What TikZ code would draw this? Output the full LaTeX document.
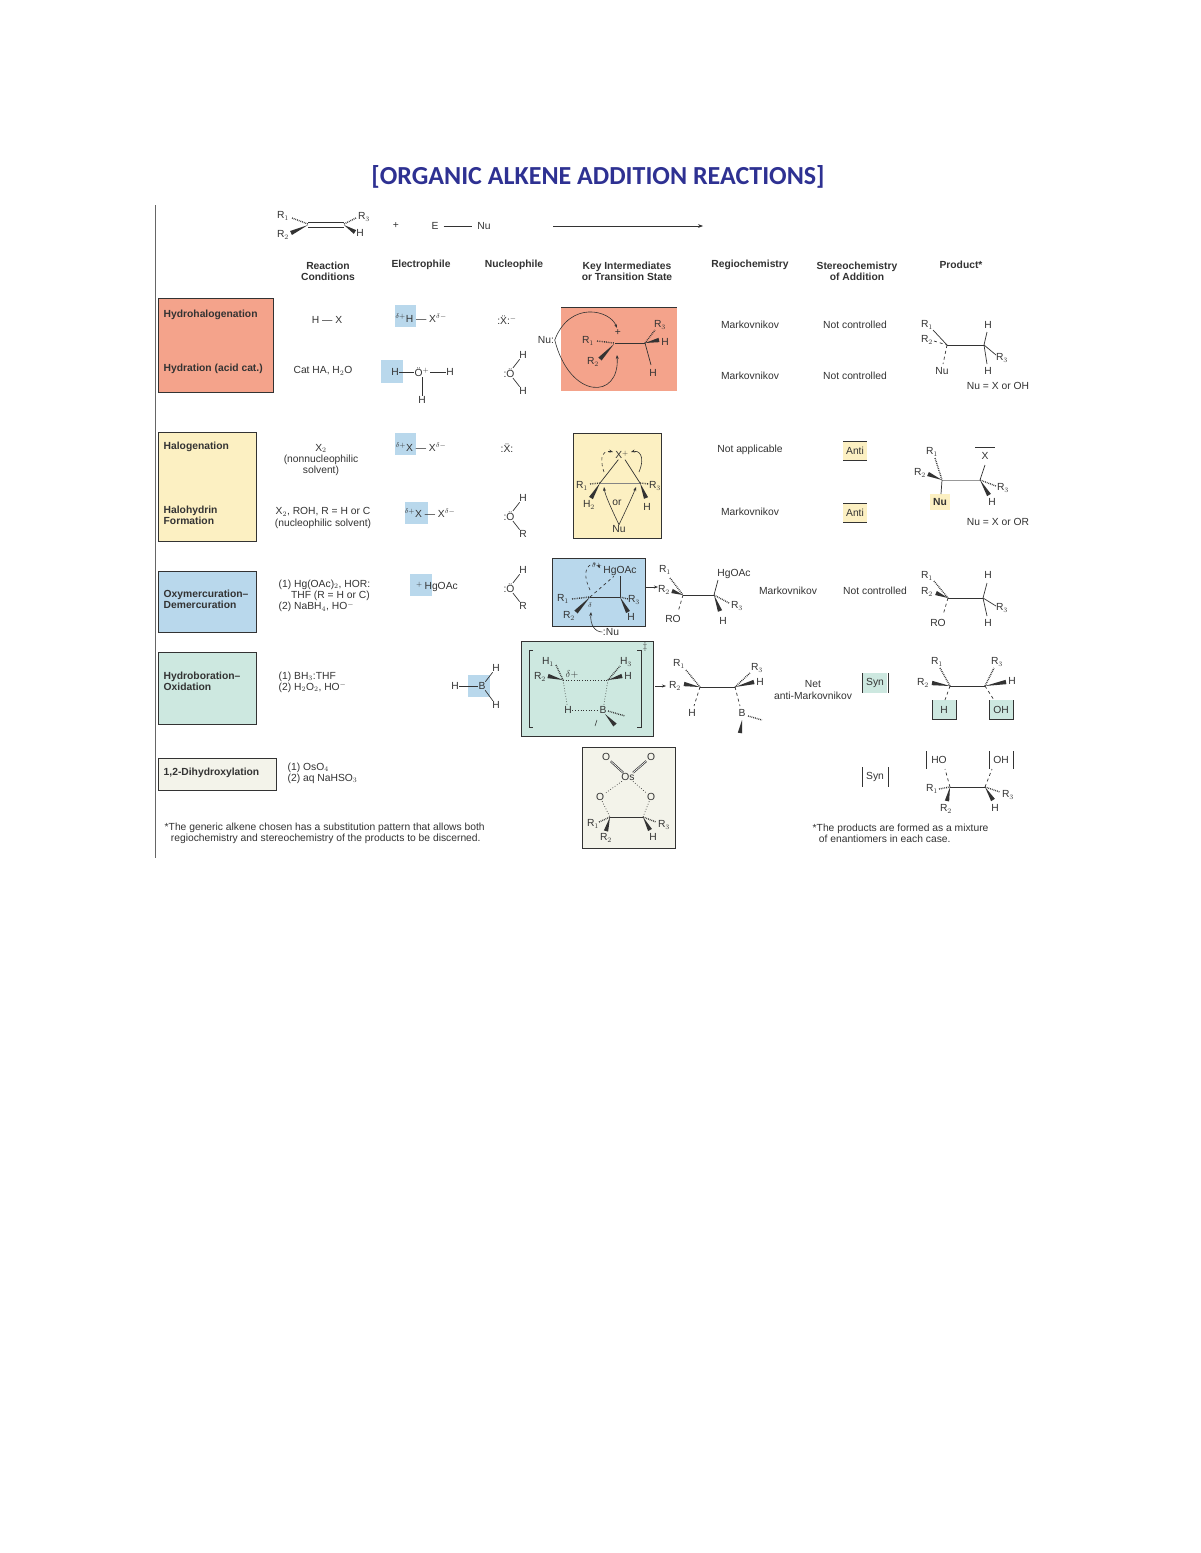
\documentclass[tikz,border=0pt]{standalone}
\usepackage{fontspec}
\setmainfont{Liberation Sans}
\newfontfamily\titlefont{Carlito}
\usetikzlibrary{calc,arrows.meta}
\definecolor{salmon}{HTML}{F4A38B}
\definecolor{yel}{HTML}{FCF0C2}
\definecolor{blu}{HTML}{B9D8EC}
\definecolor{grn}{HTML}{CDE8E0}
\definecolor{lgt}{HTML}{F3F3EA}
\definecolor{txt}{HTML}{333333}
\definecolor{ttl}{HTML}{2E3192}
\newcommand\wdg[2]{\fill[txt] (#1) -- ($(#2)!2.2pt!90:(#1)$) -- ($(#2)!2.2pt!-90:(#1)$) -- cycle;}
\newcommand\hsh[2]{\draw[txt,dash pattern=on 0.8pt off 1pt,line width=1.4pt] (#1) -- (#2);}
\begin{document}
\begin{tikzpicture}[x=1pt,y=-1pt,
  t/.style={font=\fontsize{10.3}{11.3}\selectfont,text=txt,inner sep=0.5pt,align=center},
  hd/.style={t,font=\fontsize{10.3}{11.3}\selectfont\bfseries},
  lab/.style={t,font=\fontsize{10.3}{11.3}\selectfont\bfseries,anchor=west,align=left},
  bnd/.style={draw=txt,line width=0.7pt},
  cbox/.style={draw=black!80,line width=0.8pt},
  cv/.style={draw=txt,line width=0.6pt,-{Stealth[length=4pt]}}]
\useasboundingbox (0,0) rectangle (1200,1553);
\fill[white] (0,0) rectangle (1200,1553);
\node[font=\titlefont\fontsize{26}{28}\selectfont\bfseries,text=ttl] (title) at (598,177) {[ORGANIC ALKENE ADDITION REACTIONS]};
\draw[black!60,line width=0.6pt] (155,205) -- (155,858);
% boxes
\filldraw[fill=salmon,cbox] (158,298) rectangle (273,392);
\filldraw[fill=yel,cbox] (158,432) rectangle (256,541);
\filldraw[fill=blu,cbox] (158,571) rectangle (256,632);
\filldraw[fill=grn,cbox] (158,652) rectangle (256,724);
\filldraw[fill=lgt,cbox] (158,758) rectangle (276,790);
\filldraw[fill=salmon,draw=none] (561,307) rectangle (677,391); \draw[cbox] (561,307)--(677,307);
\filldraw[fill=yel,cbox] (573,433) rectangle (661,538);
\filldraw[fill=blu,cbox] (552,558) rectangle (645,626);
\filldraw[fill=grn,cbox] (521,641) rectangle (653,736);
\filldraw[fill=lgt,cbox] (582,747) rectangle (675,848);
% highlight boxes
\fill[blu] (395,305) rectangle (416,327);
\fill[blu] (381,360) rectangle (403,383);
\fill[blu] (395,433) rectangle (416,455);
\fill[blu] (405,502) rectangle (428,524);
\fill[blu] (410,574) rectangle (432,596);
\fill[blu] (468,675) rectangle (490,697);
% header alkene
\node[t] (r1a) at (283,216) {R$_1$}; \node[t] (r3a) at (364,217) {R$_3$};
\node[t] (r2a) at (283,235) {R$_2$}; \node[t] (ha) at (360,233) {H};
\draw[bnd] (308,222)--(344,222); \draw[bnd] (308,227)--(344,227);
\hsh{292,218}{308,224}\hsh{344,224}{356,218}
\wdg{308,225}{291,233}\wdg{344,225}{355,232}
\node[t] (plus) at (396,226) {+};
\node[t,inner sep=5pt] (E) at (435,226) {E}; \node[t,inner sep=5pt] (nu0) at (484,226) {Nu};
\draw[bnd] (E) -- (nu0);
\coordinate (a0) at (553,226); \coordinate (a1) at (703,226);
\draw[txt,line width=0.6pt,-{Stealth[length=5pt]}] (a0) -- (a1);
% headers
\node[hd] at (328,271) {Reaction\\Conditions};
\node[hd] at (421,265) {Electrophile};
\node[hd] at (514,265) {Nucleophile};
\node[hd] at (627,271) {Key Intermediates\\or Transition State};
\node[hd] at (750,265) {Regiochemistry};
\node[hd] at (857,271) {Stereochemistry\\of Addition};
\node[hd] at (961,265) {Product*};
% row labels
\node[lab] at (163,315) {Hydrohalogenation};
\node[lab] at (163,369) {Hydration (acid cat.)};
\node[lab] at (163,447) {Halogenation};
\node[lab] at (163,515) {Halohydrin\\Formation};
\node[lab] at (163,599) {Oxymercuration--\\Demercuration};
\node[lab] at (163,681) {Hydroboration--\\Oxidation};
\node[lab] at (163,773) {1,2-Dihydroxylation};
% conditions
\node[t] at (327,320) {H --- X};
\node[t] at (323,371) {Cat HA, H$_2$O};
\node[t] at (321,460) {X$_2$\\(nonnucleophilic\\solvent)};
\node[t] at (323,518) {X$_2$, ROH, R = H or C\\(nucleophilic solvent)};
\node[t,anchor=west,align=left] at (278,596) {(1) Hg(OAc)$_2$, HOR:\\\hspace{1.2em}THF (R = H or C)\\(2) NaBH$_4$, HO$^-$};
\node[t,anchor=west,align=left] at (278,682) {(1) BH$_3$:THF\\(2) H$_2$O$_2$, HO$^-$};
\node[t,anchor=west,align=left] at (287,773) {(1) OsO$_4$\\(2) aq NaHSO$_3$};
% electrophiles
\node[t] at (421,318) {$^{\delta+}$H --- X$^{\delta-}$};
\node[t] (eh) at (395,372) {H}; \node[t] (eo) at (422,372) {\"O$^+$}; \node[t] (eh2) at (450,372) {H}; \node[t] (eh3) at (422,400) {H};
\draw[bnd] (eh)--(eo); \draw[bnd] (eo)--(eh2); \draw[bnd] (eo)--(eh3);
\node[t] at (421,447) {$^{\delta+}$X --- X$^{\delta-}$};
\node[t] at (430,513) {$^{\delta+}$X --- X$^{\delta-}$};
\node[t] at (437,587) {$^+$\,HgOAc};
\node[t] (bh) at (455,686) {H}; \node[t] (bb) at (482,686) {B}; \node[t] (bh2) at (496,668) {H}; \node[t] (bh3) at (496,705) {H};
\draw[bnd] (bh)--(bb); \draw[bnd] (bb)--(bh2); \draw[bnd] (bb)--(bh3);
% nucleophiles
\node[t] at (507,320) {:\"X:$^-$};
\node[t] at (507,448) {:\"X:};
\foreach \y/\s in {373/H,516/R,588/R}{
 \node[t] (o\y) at (509,\y) {:\"O}; \node[t] (oa\y) at (523,\y-18) {H}; \node[t] (ob\y) at (523,\y+18) {\s};
 \draw[bnd] (o\y)--(oa\y); \draw[bnd] (o\y)--(ob\y);}
% regio / stereo
\node[t] at (750,325) {Markovnikov}; \node[t] at (855,325) {Not controlled};
\node[t] at (750,376) {Markovnikov}; \node[t] at (855,376) {Not controlled};
\node[t] at (750,450) {Not applicable};
\node[t] at (750,512) {Markovnikov};
\node[t] at (788,591) {Markovnikov}; \node[t] at (875,591) {Not controlled};
\node[t] at (813,690) {Net\\anti-Markovnikov};
\foreach \y in {441,503}{\fill[yel] (843,\y) rectangle (867,\y+19); \draw[bnd] (843,\y)--(867,\y); \draw[bnd] (843,\y+19)--(867,\y+19); \node[t] at (855,\y+9.5) {Anti};}
\fill[grn] (863,673) rectangle (887,693);
\foreach \y in {673,767}{\draw[bnd] (862,\y)--(862,\y+20); \draw[bnd] (888,\y)--(888,\y+20); \node[t] at (875,\y+10) {Syn};}
% intermediate 1 (salmon)
\node[t] (nu1) at (546,340) {Nu:};
\coordinate (c1) at (615,343); \coordinate (c2) at (645,343);
\draw[bnd] (c1)--(c2); \node[t] at (618,333) {+};
\node[t] at (588,341) {R$_1$}; \node[t] at (593,362) {R$_2$};
\hsh{597,341}{614,343}\wdg{614,344}{600,359}
\node[t] at (660,325) {R$_3$}; \node[t] at (665,342) {H}; \node[t] at (653,373) {H};
\hsh{645,343}{655,330}\wdg{645,343}{659,340}\draw[bnd] (645,343)--(651,365);
\draw[cv] (nu1.east) .. controls (570,300) and (610,310) .. (617,328);
\draw[cv] (nu1.east) .. controls (570,400) and (620,400) .. (617,355);
% intermediate 2 (yellow)
\node[t] (xp) at (622,455) {X$^+$};
\coordinate (cl) at (600,483); \coordinate (cr) at (640,483);
\draw[draw=txt!60,line width=1pt] (cl)--(cr); \draw[bnd] (cl)--(xp)--(cr);
\node[t] at (582,486) {R$_1$}; \node[t] at (655,486) {R$_3$};
\node[t] at (589,505) {H$_2$}; \node[t] at (647,507) {H};
\node[t] at (617,503) {or}; \node[t] (nu2) at (619,529) {Nu};
\hsh{590,484}{600,483}\wdg{600,483}{591,498}\hsh{640,483}{649,484}\wdg{640,483}{646,498}
\draw[cv,dashed] (604,472) .. controls (598,455) and (605,450) .. (613,452);
\draw[cv] (639,472) .. controls (646,455) and (638,450) .. (631,452);
\draw[cv] (nu2.north) .. controls (612,510) and (605,495) .. (604,487);
\draw[cv] (nu2.north) .. controls (626,510) and (633,495) .. (636,487);
% intermediate 3 (blue)
\node[t] (hg) at (620,571) {HgOAc}; \node[t] at (597,565) {$\scriptstyle\delta+$};
\coordinate (ml) at (590,597); \coordinate (mr) at (620,597);
\draw[bnd] (ml)--(mr); \draw[bnd,dashed] (ml)--(hg); \draw[bnd] (mr)--(hg);
\node[t] at (563,599) {R$_1$}; \node[t] at (569,616) {R$_2$}; \node[t] at (590,605) {$\scriptstyle\delta$};
\node[t] at (634,600) {R$_3$}; \node[t] at (631,617) {H};
\hsh{572,599}{590,597}\wdg{590,597}{576,612}\hsh{620,597}{628,599}\wdg{620,597}{628,612}
\draw[cv,dashed] (590,590) .. controls (578,565) and (595,560) .. (600,568);
\node[t] (nu3) at (611,632) {:Nu};
\draw[cv] (nu3.west) .. controls (595,632) and (590,625) .. (591,612);
% intermediate 4 (green)
\draw[bnd] (533,650)--(529,650)--(529,727)--(533,727);
\draw[bnd] (637,650)--(641,650)--(641,727)--(637,727);
\node[t] at (645,647) {$\ddagger$};
\node[t] at (548,662) {H$_1$}; \node[t] at (540,677) {R$_2$};
\node[t] at (572,674) {$\delta+$};
\node[t] at (626,662) {H$_3$}; \node[t] at (628,676) {H};
\coordinate (bl) at (563,680); \coordinate (br) at (608,680);
\draw[bnd,dotted] (bl)--(br); \wdg{563,680}{548,676}\hsh{556,665}{563,680}\hsh{608,680}{620,666}\wdg{608,680}{622,676}
\node[t] (bhh) at (568,710) {H}; \node[t] (bbb) at (603,710) {B};
\draw[bnd,dotted] (bl)--(bhh); \draw[bnd,dotted] (br)--(bbb); \draw[bnd,dotted] (bhh)--(bbb);
\hsh{608,711}{625,716}\wdg{605,714}{615,725}
\draw[txt,line width=0.5pt] (597,720)--(595,726);
% arrows from intermediates
\coordinate (ar1) at (645,587); \coordinate (ar2) at (658,587);
\draw[cv] (ar1)--(ar2);
\coordinate (ar3) at (655,686); \coordinate (ar4) at (666,686);
\draw[cv] (ar3)--(ar4);
% OsO4 intermediate
\node[t] (os) at (628,777) {Os}; \node[t] (oa) at (606,757) {O}; \node[t] (ob) at (651,757) {O};
\node[t] (oc) at (600,797) {O}; \node[t] (od) at (651,797) {O};
\draw[bnd,double] (os)--(oa); \draw[bnd,double] (os)--(ob);
\draw[bnd,dotted] (os)--(oc); \draw[bnd,dotted] (os)--(od);
\coordinate (dl) at (610,817); \coordinate (dr) at (643,817);
\draw[bnd,dotted] (oc)--(dl); \draw[bnd,dotted] (od)--(dr); \draw[bnd] (dl)--(dr);
\node[t] at (593,824) {R$_1$}; \node[t] at (606,838) {R$_2$}; \node[t] at (664,825) {R$_3$}; \node[t] at (653,837) {H};
\hsh{599,822}{610,817}\wdg{610,817}{606,831}\hsh{643,817}{656,822}\wdg{643,817}{650,830}
% oxymercuration intermediate product
\node[t] at (665,570) {R$_1$}; \node[t] at (664,590) {R$_2$};
\coordinate (p1) at (683,595); \coordinate (p2) at (714,595);
\draw[bnd] (p1)--(p2); \hsh{670,578}{683,595}\wdg{683,595}{672,591}\draw[bnd,dashed] (p1)--(678,612);
\node[t] at (673,619) {RO}; \node[t] at (734,574) {HgOAc}; \node[t] at (737,606) {R$_3$}; \node[t] at (723,621) {H};
\draw[bnd] (p2)--(718,580); \hsh{714,595}{729,603}\wdg{714,595}{720,611}
% hydroboration product
\node[t] at (679,664) {R$_1$}; \node[t] at (675,686) {R$_2$};
\coordinate (q1) at (700,687); \coordinate (q2) at (735,687);
\draw[bnd] (q1)--(q2); \hsh{686,670}{700,687}\wdg{700,687}{684,684}\draw[bnd,dashed] (q1)--(694,706);
\node[t] at (692,713) {H}; \node[t] at (757,668) {R$_3$}; \node[t] at (760,682) {H};
\hsh{735,687}{750,673}\wdg{735,687}{754,682}\draw[bnd,dashed] (q2)--(740,706);
\node[t] at (742,713) {B}; \hsh{748,716}{762,720}\wdg{742,720}{740,733}
% product 1
\node[t] at (927,325) {R$_1$}; \node[t] at (927,340) {R$_2$};
\coordinate (s1) at (947,345); \coordinate (s2) at (984,345);
\draw[bnd] (s1)--(s2); \draw[bnd] (933,330)--(s1); \draw[bnd,dashed] (934,341)--(s1); \draw[bnd,dashed] (s1)--(943,364);
\node[t] at (942,371) {Nu}; \node[t] at (988,325) {H}; \node[t] at (1002,358) {R$_3$}; \node[t] at (988,371) {H};
\draw[bnd] (s2)--(987,332); \draw[bnd] (s2)--(996,355); \draw[bnd] (s2)--(987,364);
\node[t] at (998,386) {Nu = X or OH};
% product 2
\node[t] at (932,452) {R$_1$}; \node[t] at (920,473) {R$_2$};
\coordinate (u1) at (942,480); \coordinate (u2) at (980,480);
\draw[bnd,draw=txt!50] (u1)--(u2); \hsh{935,458}{942,480}\wdg{942,480}{928,474}
\fill[yel] (930,494) rectangle (950,510); \node[t] at (940,502) {\bfseries Nu}; \draw[bnd] (u1)--(941,494);
\draw[bnd] (975,447)--(995,447); \node[t] at (985,456) {X}; \draw[bnd] (u2)--(985,465);
\hsh{980,480}{996,486}\wdg{980,480}{989,495}
\node[t] at (1003,488) {R$_3$}; \node[t] at (992,502) {H};
\node[t] at (998,522) {Nu = X or OR};
% product 3
\node[t] at (927,576) {R$_1$}; \node[t] at (927,592) {R$_2$};
\coordinate (v1) at (948,598); \coordinate (v2) at (983,598);
\draw[bnd] (v1)--(v2); \hsh{934,581}{948,598}\wdg{948,598}{936,593}\draw[bnd,dashed] (v1)--(943,615);
\node[t] at (938,623) {RO}; \node[t] at (988,575) {H}; \node[t] at (1002,608) {R$_3$}; \node[t] at (988,623) {H};
\draw[bnd] (v2)--(987,583); \draw[bnd] (v2)--(996,606); \draw[bnd] (v2)--(987,616);
% product 4
\node[t] at (937,662) {R$_1$}; \node[t] at (923,683) {R$_2$};
\coordinate (w1) at (950,686); \coordinate (w2) at (985,686);
\draw[bnd] (w1)--(w2); \hsh{940,668}{950,686}\wdg{950,686}{932,683}\hsh{985,686}{994,668}\wdg{985,686}{1006,682}
\node[t] at (997,662) {R$_3$}; \node[t] at (1012,681) {H};
\fill[grn] (932,700) rectangle (956,719); \draw[bnd] (932,700)--(932,719)--(956,719)--(956,700);
\fill[grn] (989,700) rectangle (1013,719); \draw[bnd] (989,700)--(989,719)--(1013,719)--(1013,700);
\node[t] at (944,710) {H}; \node[t] at (1001,710) {OH};
\draw[bnd,dashed] (w1)--(945,700); \draw[bnd,dashed] (w2)--(994,700);
% product 5
\draw[bnd] (926,751)--(926,769); \draw[bnd] (989,751)--(989,769); \draw[bnd] (1013,751)--(1013,769);
\node[t] at (939,760) {HO}; \node[t] at (1001,760) {OH};
\coordinate (z1) at (950,787); \coordinate (z2) at (985,787);
\draw[bnd] (z1)--(z2); \draw[bnd,dashed] (z1)--(945,769); \draw[bnd,dashed] (z2)--(992,769);
\node[t] at (932,789) {R$_1$}; \node[t] at (946,809) {R$_2$}; \node[t] at (1008,795) {R$_3$}; \node[t] at (995,808) {H};
\hsh{939,789}{950,787}\wdg{950,787}{947,801}\hsh{985,787}{1000,792}\wdg{985,787}{993,800}
% footnotes
\node[t,anchor=west,align=left] at (164,833) {*The generic alkene chosen has a substitution pattern that allows both\\\hspace{0.6em}regiochemistry and stereochemistry of the products to be discerned.};
\node[t,anchor=west,align=left] at (812,833) {*The products are formed as a mixture\\\hspace{0.6em}of enantiomers in each case.};
\end{tikzpicture}
\end{document}
